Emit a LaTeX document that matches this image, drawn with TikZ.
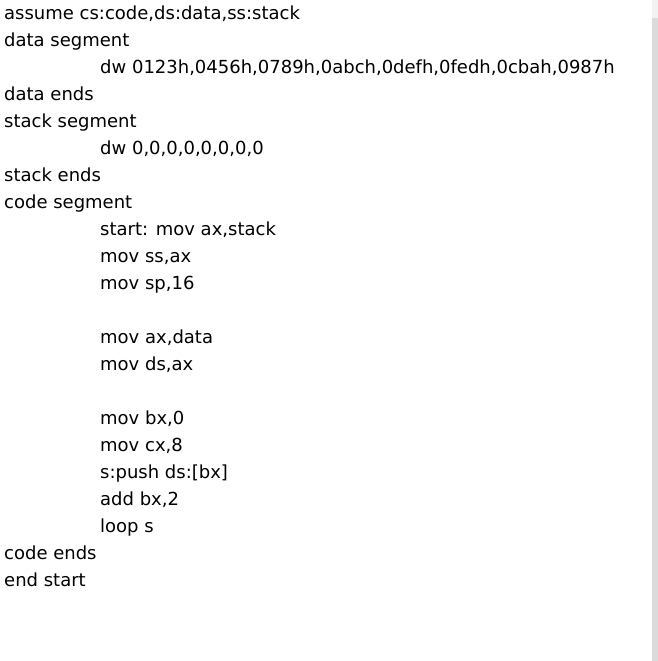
\documentclass[tikz,border=0pt]{standalone}
\usepackage{fontspec}
\setmainfont{DejaVu Sans}
\begin{document}
\begin{tikzpicture}[x=1pt,y=-1pt,
  t/.style={anchor=base west,inner sep=0pt,font=\fontsize{18}{20}\selectfont}]
\useasboundingbox (0,0) rectangle (658,661);
\fill[white] (0,0) rectangle (658,661);
\fill[black!14] (652,18) rectangle (658,661);
\fill[black!5] (652,0) rectangle (658,18);
\def\L{4}\def\I{100}
\node[t] (l1) at (\L,20) {assume cs:code,ds:data,ss:stack};
\node[t] (l2) at (\L,47) {data segment};
\node[t] (l3) at (\I,74) {dw 0123h,0456h,0789h,0abch,0defh,0fedh,0cbah,0987h};
\node[t] (l4) at (\L,100) {data ends};
\node[t] (l5) at (\L,127) {stack segment};
\node[t] (l6) at (\I,154) {dw 0,0,0,0,0,0,0,0};
\node[t] (l7) at (\L,181) {stack ends};
\node[t] (l8) at (\L,208) {code segment};
\node[t] (l9) at (\I,235) {start: mov ax,stack};
\node[t] (l10) at (\I,262) {mov ss,ax};
\node[t] (l11) at (\I,289) {mov sp,16};
\node[t] (l12) at (\I,343) {mov ax,data};
\node[t] (l13) at (\I,370) {mov ds,ax};
\node[t] (l14) at (\I,424) {mov bx,0};
\node[t] (l15) at (\I,451) {mov cx,8};
\node[t] (l16) at (\I,478) {s:push ds:[bx]};
\node[t] (l17) at (\I,505) {add bx,2};
\node[t] (l18) at (\I,532) {loop s};
\node[t] (l19) at (\L,559) {code ends};
\node[t] (l20) at (\L,586) {end start};
\end{tikzpicture}
\end{document}
